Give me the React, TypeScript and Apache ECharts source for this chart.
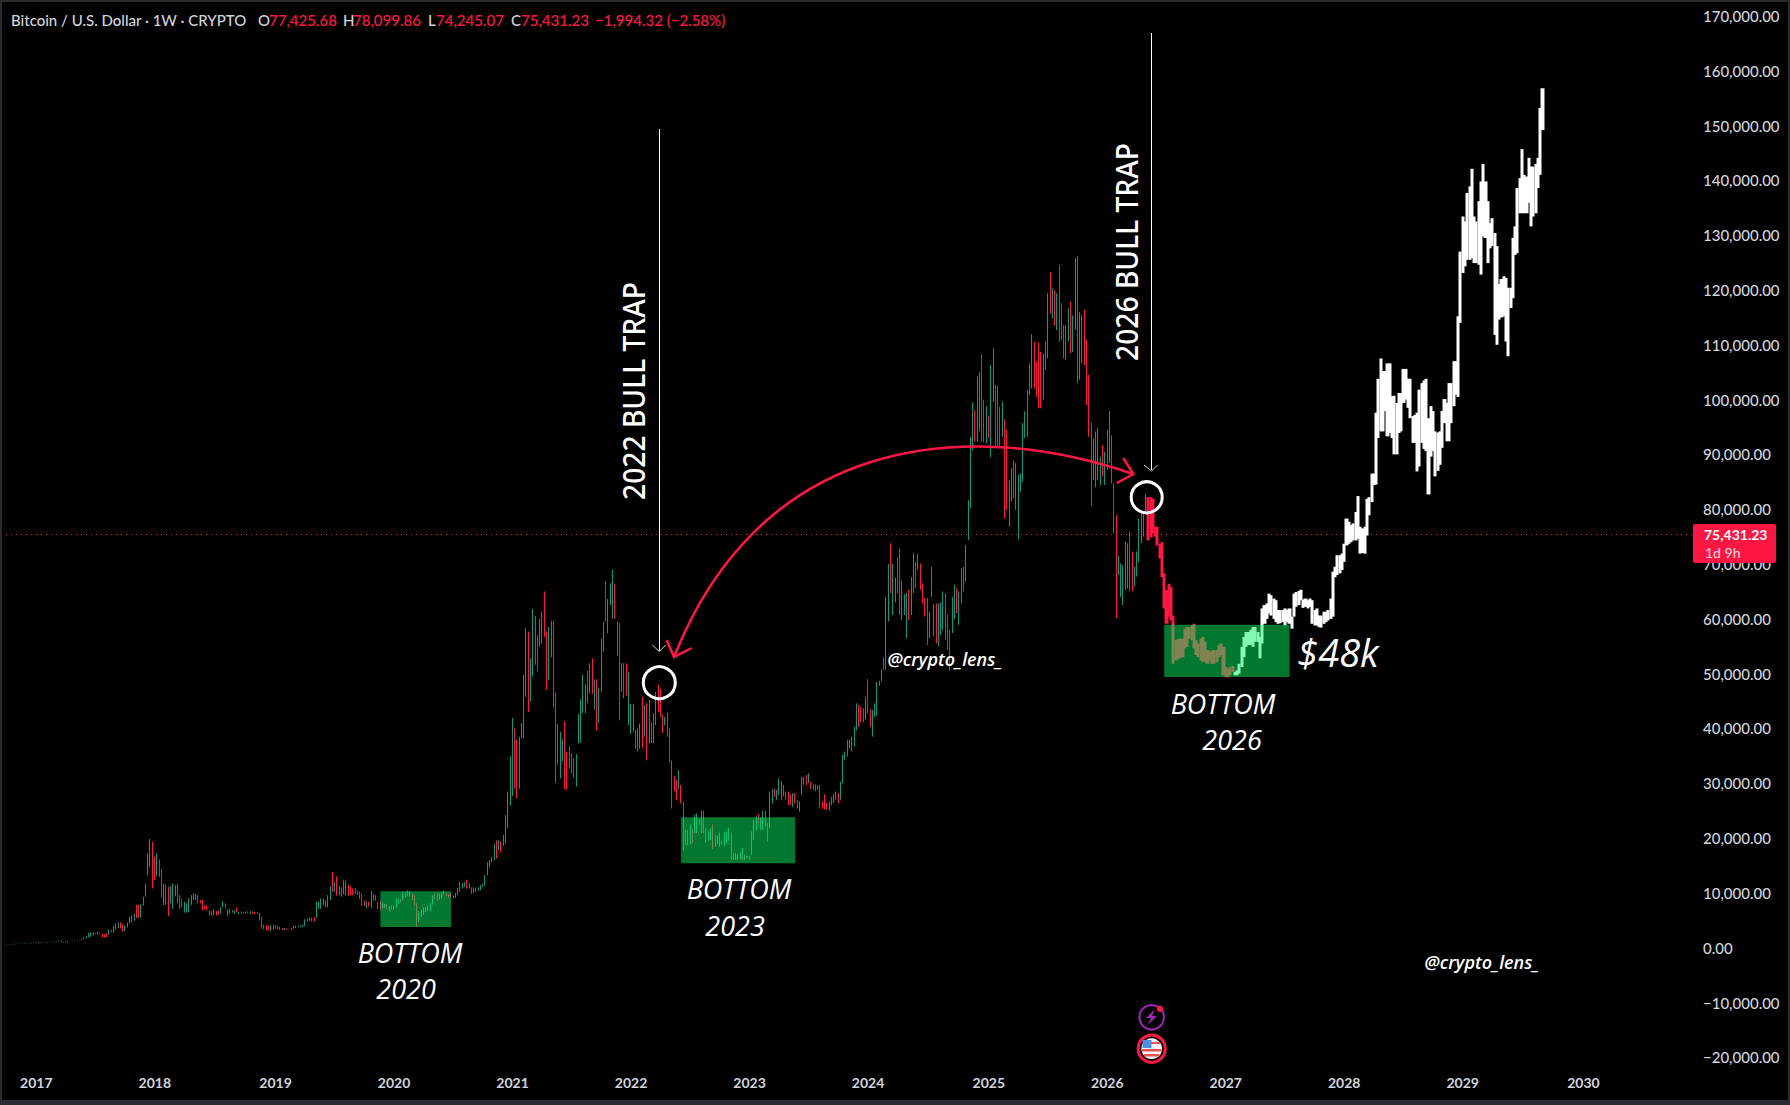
import React, { useEffect, useRef } from "react";
import * as echarts from "echarts";

// Weekly bars in thousands of US dollars, as [open, close] pairs
const bars2016to2017 = [
  [.55,.6],[.56,.61],[.58,.62],[.58,.63],[.6,.65],[.6,.67],[.62,.72],[.65,.74],[.7,.76],[.72,.78],[.72,.79],[.74,.8],[.76,.82],[.78,.9],[.85,.97],
  [.96,1.12],[1.0,.78],[.82,.93],[.88,.95],[.91,.98],[.95,1.05],[.98,1.06],[1.0,1.09],[1.05,1.15],[1.12,1.22],[1.18,1.3],[1.32,1.0],[1.05,.92],[.98,1.14],[1.06,1.22],[1.18,1.25],[1.24,1.15],[1.2,1.3],[1.26,1.36],[1.35,1.45],[1.4,1.6],
  [1.5,1.9],[1.7,2.1],[1.9,2.7],[2.0,2.8],[2.2,2.8],[2.5,2.7],[2.4,2.9],[2.4,2.6],[2.6,1.9],[2.5,1.9],[2.6,1.9],[2.4,3.3],[2.9,3.2],[2.7,4.0],[3.3,4.4],[3.6,4.6],[4.6,3.5],[4.3,2.9],[3.0,4.1],[3.7,4.6],[4.4,5.6],[4.6,5.9],[4.9,6.2],[7.8,5.4],[7.8,5.5],[5.5,7.9],[7.7,9.3],[9.3,11.7],[13.2,17.2],[14.7,19.8],[19.3,10.8],[16.6,12.3],[13,17.2],[16.1,12.9],
];
const bars2018to2019 = [
  [14.3,9.2],[7.8,11.7],[11.6,7.8],[11.1,5.8],[8.1,11.2],[7.1,11.7],[9.4,11.4],[11.6,8.1],[9.6,7.1],[9,7.4],[6.4,8.4],[6.4,8.1],[6.5,9],[7.8,9.6],[8.7,9.9],[8.7,9.9],[9.6,8.1],[8.7,8.1],[8.7,6.8],[7.7,7],[7.7,6.8],[6.8,5.9],[6.7,5.8],[5.9,7],[6.7,5.9],[6.8,6],[6.2,7.4],[7.4,8.5],[8.1,7.1],[7,5.8],[6.2,7.1],[6.4,6.8],[6.2,6.8],[7.3,6.5],[6.1,6.5],[6.2,6.6],[6.5,6.2],[6.2,6.6],[6.6,6.3],[6.1,6.7],[6.6,6.2],[6.5,6.1],[6.5,6.2],[6.4,5.0],[5.6,3.5],[4.2,3.4],[4.1,3.2],[4,3.1],[3.1,4.1],[3.3,4.1],[4.1,3.5],[4,3.4],[3.8,3.3],
  [3.6,3.2],[3.2,3.6],[3.5,3.2],[3.4,3.3],[3.3,3.6],[3.5,4],[3.6,4],[3.7,4.0],[3.7,4.0],[3.8,4.2],[3.9,5.2],[4.8,5.3],[4.9,5.5],[5.5,4.8],[5.6,4.8],[5.4,8.4],[7.1,8.4],[7.1,9],[7.8,9],[8.7,7.4],[7.4,9.6],[8.7,11.2],[13.8,10.2],[10.2,12],[13,9.5],[9.5,11.2],[11,9.3],[9.8,12.3],[9.6,12.3],[11.5,9.5],[11.2,9.6],[10.8,9.6],[10.8,9.8],[10.4,9.6],[10.2,8.9],[9.8,7.6],[8.6,7.6],[7.2,8.4],[8.4,7.5],[7.3,10.4],[9.8,8.6],[9.6,8.6],[8.4,7.0],[8.6,6.8],[7.2,8.2],
];
const bars2020 = [
  [7.3,8.0],[8,7],[6.6,7.6],[7.7,7],[7.7,6.9],[7.3,9],[8.0,8.9],[8.9,8.2],[8.6,10.1],[9.2,10.2],[10.5,9.4],[9.3,10.3],[10,8.7],[9.6,7.7],[8.1,3.8],[4.7,6.7],[5.6,6.9],[6.0,7.4],[6.5,7.4],[6.7,7.8],[6.6,8.2],[7.8,9.6],[10,8.8],[8.5,10],[8.8,9.9],[9.1,10],[9.7,10.4],[10.0,9.4],[9.8,9.1],[10,9.2],[9,9.5],[9.1,10],[9.6,10.9],[10.2,12],[10.8,11.8],[11.1,12],[12.4,10.8],[11.8,10.8],[11,9.8],[10,11],[10.2,11],[10.4,11],[10.5,11.4],[11.1,11.6],[11.3,13.2],[13.2,15.6],[14.7,16],[15.6,16.5],[16,19],[19.6,16.3],[17.8,19.6],[19.4,17.4],[18.6,20.6],[19.0,24.2],[21.8,28.5],[25.9,34.9],
];
const bars2021to2022 = [
  [27.7,41.9],[40,29.1],[37.9,27.3],[29,38.5],[38.2,41],[38.2,49.8],[45.8,58.3],[57.7,43],[44.9,52.8],[49.5,61.8],[60.5,51.6],[57,50.4],[54.9,60],[55.5,61.3],[65,56.7],[57.7,47],[48.8,58.5],[53,59.6],[59.6,43.8],[46.6,30],[33.4,40.8],[30.9,39.4],[34,38],[41.3,28.9],[35.8,28.8],[36.7,32.7],[35.5,31.8],[34.6,31],[29.4,35.3],[37.3,42.6],[37.4,45.3],[42.8,49.8],[42.8,48],[50.5,44.6],[46.4,51.9],[52.8,46.3],[43.4,48.9],[49,39.6],[41,47.5],[46.7,56.4],[54,59.5],[66.9,59.5],[57.4,63.6],[62.5,66.5],[60,69],[66.4,60],[59.5,53.3],[59.2,41.5],[46.7,51.9],[51.9,45.5],[51.9,46],[40.6,50.4],[39,44.5],[39.4,44.5],[39.7,36.3],[35.8,40],[36.3,40.9],[45.8,36.4],[38.5,44.3],[44.6,34.2],[37.3,45.2],[41.2,37.3],[37.3,42.8],[40.6,46.7],[48,43],[47.2,42.2],[42.5,39.2],[40.6,42.1],[42.9,38.5],[40,33.8],[34.2,25.4],[31.3,28.5],[30.6,27],[29,32.4],[29.7,26.3],[26.6,17.7],[21.6,18.6],[21.5,18.7],[18.9,22.4],[21.6,19.1],[20.9,24.2],[20.9,24.5],[23.6,22.4],[20.9,25],[25,20.9],[21.8,19.2],[19.5,21.3],[19.6,21.8],[22.5,18],[20.5,18.4],[18.9,20.5],[18.5,21],[19.5,18.8],[18.5,21],[19,21.3],[19.5,21.9],[21,16.0],[17.2,16],[16,17.3],[17,16],[16.2,17.4],[16,18.2],[17,16],[16.3,16.8],[16.7,16.0],
];
const bars2023 = [
  [16.9,21.2],[19.7,23.3],[21.4,24],[24.4,22.5],[21.5,23.7],[21.5,25],[25,22],[22.7,19.4],[21.8,28.5],[26.3,29],[29,27.5],[27,28.8],[27.9,30.9],[26.9,30.3],[29.7,27.6],[28.5,27],[28.5,26],[27.9,26],[25.7,28.2],[28.2,26.3],[26.9,25.4],[24.8,26.7],[27.9,31.2],[29.7,31.2],[31.5,29.7],[30,31.8],[30.3,29],[29.8,28.8],[29.8,28.5],[28.8,29.6],[29.7,25.4],[26.7,25.4],[28,25.2],[26.4,25.2],[25,26.7],[26,27.5],[26.4,28],[27,28.5],[28.2,26.4],[27,30.3],[30,35.2],[34.3,35.8],[34.9,37.9],[36.4,37.9],[35.8,38.5],[36.7,40.3],[39.7,44.6],[44.3,40.3],[43.9,41.2],[43.7,41.2],[41.6,45.8],[49,42.8],[43.5,40.3],[38.5,43.4],[42.1,44.6],[42.3,48.5],[47.8,48.7],[48.6,50.8],[53,50.7],
];
const bars2024 = [
  [50.7,64],[59.5,70],[73.8,64.7],[60.7,70],[63,67.5],[71.2,64.7],[72.8,60.7],[59.8,67],[60.7,64.5],[56.5,64.7],[65.3,59.8],[60.7,67.6],[64.7,72],[70.4,65.6],[69,71.8],[70.1,65.3],[66.5,62.8],[63.8,60.4],[63.8,55.2],[56.5,61.3],[64,69.5],[56.8,62.7],[62.8,55.5],[55,62.8],[57,63],[58,65],[64.7,56.2],[60.7,54.3],[58,50.5],[57.4,64],[60,66.2],[65.6,61],[58.9,65],[62.8,69.2],[69.5,65],[66.8,73.5],[74.4,81.6],[80.2,93.2],[90.8,99.5],[98,92.3],[92.3,104.2],[94.2,105],[108.3,92.3],[100,92.2],[92,98.8],[97,93],[89.5,106.3],[99.6,109.4],[102.7,91.4],[102.5,91.4],[98.7,91.4],[93.2,99.6],
];
const bars2025to2026 = [
  [96.4,78.3],[94.5,79.9],[76.8,85.3],[81.4,87.5],[88.9,82],[79.9,88.4],[74.5,86.3],[83.2,86.5],[85,95.7],[93,97.9],[93.2,101.8],[100.8,106.6],[102,111.9],[110.6,102],[106.9,100.5],[110.4,98.4],[108.7,98.4],[100,108.4],[105.4,110.6],[107.5,119.4],[123.3,115.7],[114.8,120.3],[119.9,113.5],[112.7,119.4],[124.6,110.6],[117.6,110.9],[113.6,107.5],[107.2,113.6],[110.6,116.7],[117.9,108.5],[108.7,115.4],[112.7,125.8],[126.2,103],[103.6,116],[106.6,115.4],[116.4,106.3],[110.9,99],[104.5,93.2],[95.8,80.6],[85.3,92.9],[84,94.2],[85.3,94.8],[84.4,89.6],[91.7,86],[84.4,90.5],[94.5,87.2],[88.4,97.9],[93.5,84.7],[84.7,75.6],[78.9,60.1],[68,71.5],[64,70.1],[62.5,69.8],[65.3,74.1],[65.5,73.8],[75.9,65],[72.3,65],[65.9,69.5],[67.7,72.3],[70.4,78.3],[73.8,79.5],[75,79.5],[79.3,82.8],
];

// Projected path, [low, high] in thousands
const projectionDown = [
  [74.3,82.2],[74.9,82.2],[75.6,81.9],[75,76.8],[73.4,76.8],[71,73.7],[67.6,74],[61.9,68.3],[59.1,65.2],[60.4,66.4],[59.7,65.8],[51.8,60.6],
  [52.4,56.1],[52.6,56.3],[52.8,56.4],[53,56.4],[54.6,58.2],[54.9,58.5],[56.4,58.5],[56.1,58.8],[54.6,59.1],[53.4,56.1],[53,55.5],[52.4,56.4],[52.1,56.7],[52.2,55.8],[51.8,54.3],[52.4,54],[51.8,54.2],[51.8,54.3],[52.1,54.3],[53,55.2],[53.4,55.5],[49.7,54.9],[49.4,51.2],[49.3,50.9],[49.7,51.2],[50.3,51.4],
];
const projectionUpTo2028 = [
  [49.7,50.3],[49.7,50.6],[50,51.8],[51.2,54.9],[53,56.7],[54.9,57.6],[55.2,57.6],[55.3,58],[54.9,58.5],[55.8,58.5],[55.8,57.6],[52.8,56.7],[55.5,61.9],[59.1,62.5],[60,62.8],[61,64.6],[60.6,64.3],[60,63.7],[59.4,63.4],[59.1,61.6],[59.2,61.6],[59.4,61.6],[58.8,61.9],[59.4,61.6],[59.1,61.9],[58.2,60.4],[60.4,64.6],[62.2,64.9],[62.5,65.1],[63.4,65.3],[62,63.5],[62.2,63.7],[61.9,63.4],[62.2,63.7],[59.1,63.4],[58.8,61.6],[58.8,61.9],[58.5,60.6],[58.4,60.6],[59.1,61.3],[59.4,61.3],[59.7,61.6],[60,63.7],[60.4,68.6],[67.6,69.5],[68,71.6],[68.3,71.6],[68.9,71.9],[70.4,73.7],[73.4,78.3],[73.7,77.7],[74,77.1],[74.3,77.4],[74.3,79.5],[74.6,82.4],[71.9,76.8],[72,76.5],[71.9,76.8],[75.2,81.9],[78.9,82.2],[81.3,86.5],[84.4,86.5],
];
const projectionUpTo2030 = [
  [84.5,97.6],[93,103.8],[94.2,107.5],[94.2,105.2],[97.9,105.2],[93.3,106.6],[93.9,106.6],[93,100.6],[90,100.7],[90,99.4],[93.9,101.2],[94.2,101.2],[99.4,105.6],[100,105.6],[98.5,103.8],[96.6,103.8],[92.1,97],[92.1,97.2],[86.9,97.6],[87.8,101.8],[92.1,103],[91,103.5],[90.6,103.8],[82.7,96.6],[89.6,98.8],[90.6,97.9],[86,94.2],[87,94],[88.1,94.2],[91.2,97.9],[95.7,100.1],[92.4,99.4],[92.4,103],[95.7,103],[98.8,107],[100.9,107],[100.5,115.2],[114,127],[123.1,133.4],[124.3,132.5],[125.5,137.7],[125.5,138.9],[125.8,142.1],[124.9,133.4],[124.9,132.5],[124.6,136.2],[122.8,139.8],[129.8,143],[129.5,139.8],[124.9,136.2],[127.6,132.2],[128,133.1],[111.8,130.4],[110,128],[114.6,121.1],[115,122],[115.2,122.5],[110.6,122.2],[107.9,120.4],[116.7,120.4],[118.5,129.5],[126.4,131.6],[126.7,138.6],[134,140.4],[134,145.7],[134,141],[134,140.7],[135.9,144.1],[131.6,142.5],[133.4,142.5],[134,143],[138.6,144.1],[141,153.2],[149.2,156.8],
];

// [first week, last week, top price, bottom price] of each bottom zone
const bottomZones = [
  [166, 197, 10300, 3800],
  [298, 348, 23800, 15400],
  [510, 565, 58900, 49400],
];

const yearLabels = ["2017","2018","2019","2020","2021","2022","2023","2024","2025","2026","2027","2028","2029","2030"];
const yearStartWeek = [15,67,120,172,224,276,328,380,433,485,537,589,641,694];
const weekCount = 743;
const priceTicks = [-20000,-10000,0,10000,20000,30000,40000,50000,60000,70000,80000,90000,100000,110000,120000,130000,140000,150000,160000,170000];
const lastPrice = 75431.23;

const RED = "#ff1744";
const TEAL = "#089981";
const LABEL = "#d1d4dc";
const FONT = "Lato";

const fmtPrice = (v: number) => {
  const s = Math.abs(v).toLocaleString("en-US", { minimumFractionDigits: 2, maximumFractionDigits: 2 });
  return (v < 0 ? "\u2212" : "") + s;
};

const toCandle = (p: number[], i: number, base: number) => {
  const o = p[0] * 1000, c = p[1] * 1000;
  return [base + i, o, c, Math.min(o, c), Math.max(o, c)];
};

function headerText(x: number, text: string, fill: string) {
  return { type: "text", x, y: 20, z: 20, style: { text, fill, font: `500 15px ${FONT}`, textAlign: "left", textVerticalAlign: "middle" } };
}
function noteText(x: number, y: number, text: string, size: number, weight = 400) {
  return { type: "text", x, y, z: 20, style: { text, fill: "#ffffff", font: `italic ${weight} ${size}px 'Open Sans'`, textAlign: "center", textVerticalAlign: "middle" } };
}
function trapText(x: number, y: number, text: string) {
  return { type: "text", x, y, rotation: Math.PI / 2, scaleX: 0.94, z: 20, style: { text, fill: "#ffffff", font: `500 30px 'Noto Sans'`, textAlign: "center", textVerticalAlign: "middle" } };
}
function seg(x1: number, y1: number, x2: number, y2: number, stroke: string, lineWidth: number) {
  return { type: "line", z: 19, shape: { x1, y1, x2, y2 }, style: { stroke, lineWidth } };
}
function chevron(points: number[][], stroke: string, lineWidth: number) {
  return { type: "polyline", z: 19, shape: { points }, style: { stroke, lineWidth, fill: "none" } };
}
function ringMark(cx: number, cy: number, r: number) {
  return { type: "circle", z: 19, shape: { cx, cy, r }, style: { stroke: "#ffffff", lineWidth: 3, fill: "none" } };
}

export default function App() {
  const ref = useRef<HTMLDivElement>(null);
  useEffect(() => {
    if (!ref.current) return;
    const chart = echarts.init(ref.current, undefined, { renderer: "svg" });
    const actual = [...bars2016to2017, ...bars2018to2019, ...bars2020, ...bars2021to2022, ...bars2023, ...bars2024, ...bars2025to2026];
    const downBase = actual.length;
    const upBase = downBase + projectionDown.length;
    const up = [...projectionUpTo2028, ...projectionUpTo2030];
    const categories = Array.from({ length: weekCount }, () => "");
    yearStartWeek.forEach((w, k) => { categories[w] = yearLabels[k]; });

    chart.setOption({
      animation: false,
      backgroundColor: "#000000",
      grid: { left: 1, top: 0, width: 1693, height: 1099, containLabel: false },
      xAxis: {
        type: "category", data: categories, boundaryGap: true,
        axisLine: { show: false }, axisTick: { show: false }, splitLine: { show: false },
        axisLabel: {
          inside: true, margin: 10, interval: (_: number, v: string) => v !== "",
          color: LABEL, fontFamily: FONT, fontSize: 14, fontWeight: 700,
        },
      },
      yAxis: {
        type: "value", position: "right", min: -27600, max: 172900, scale: true,
        axisLine: { show: false }, axisTick: { show: false }, splitLine: { show: false },
        axisLabel: { customValues: priceTicks, formatter: (v: number) => fmtPrice(v), margin: 9, color: LABEL, fontFamily: FONT, fontSize: 15, fontWeight: 500 },
      },
      series: [
        {
          type: "candlestick", name: "BTCUSD", z: 2, barWidth: 0.1, barMinWidth: 0.1, encode: { x: 0, y: [1, 2, 3, 4] },
          itemStyle: { color: TEAL, color0: RED, borderColor: TEAL, borderColor0: RED, borderWidth: 1 },
          data: actual.map((p, i) => toCandle(p, i, 0)),
          markLine: {
            silent: true, symbol: "none", z: 1, label: { show: false },
            lineStyle: { color: RED, type: [1, 4], width: 1 },
            data: [{ yAxis: lastPrice }],
          },
          markArea: {
            silent: true, z: 10, itemStyle: { color: "rgba(0,245,100,0.49)" },
            data: bottomZones.map((b) => [{ xAxis: b[0], yAxis: b[2] }, { xAxis: b[1], yAxis: b[3] }]),
          },
        },
        {
          type: "candlestick", name: "Projection down", z: 3, barWidth: 3.6, encode: { x: 0, y: [1, 2, 3, 4] },
          itemStyle: { color: RED, color0: RED, borderColor: RED, borderColor0: RED, borderWidth: 0 },
          data: projectionDown.map((p, i) => toCandle(p, i, downBase)),
        },
        {
          type: "candlestick", name: "Projection up", z: 3, barWidth: 3.6, encode: { x: 0, y: [1, 2, 3, 4] },
          itemStyle: { color: "#ffffff", color0: "#ffffff", borderColor: "#ffffff", borderColor0: "#ffffff", borderWidth: 0 },
          data: up.map((p, i) => toCandle(p, i, upBase)),
        },
      ],
      graphic: { elements: [
        { type: "rect", z: 30, shape: { x: 0, y: 0, width: 1790, height: 2 }, style: { fill: "#2a2a2f" } },
        { type: "rect", z: 30, shape: { x: 0, y: 0, width: 2, height: 1105 }, style: { fill: "#2a2a2f" } },
        { type: "rect", z: 30, shape: { x: 1788, y: 0, width: 2, height: 1105 }, style: { fill: "#2a2a2f" } },
        { type: "rect", z: 30, shape: { x: 0, y: 1100, width: 1790, height: 5 }, style: { fill: "#2a2a2f" } },

        headerText(11, "Bitcoin / U.S. Dollar \u00b7 1W \u00b7 CRYPTO", LABEL),
        headerText(258, "O", LABEL), headerText(269, "77,425.68", RED),
        headerText(343, "H", LABEL), headerText(353, "78,099.86", RED),
        headerText(428, "L", LABEL), headerText(436, "74,245.07", RED),
        headerText(511, "C", LABEL), headerText(521, "75,431.23", RED),
        headerText(595, "\u22121,994.32 (\u22122.58%)", RED),

        { type: "rect", z: 25, shape: { x: 1693, y: 524, width: 83, height: 39, r: 2 }, style: { fill: RED } },
        { type: "text", z: 26, x: 1704, y: 534, style: { text: "75,431.23", fill: "#ffffff", font: `700 14px ${FONT}`, textAlign: "left", textVerticalAlign: "middle" } },
        { type: "text", z: 26, x: 1705, y: 552, style: { text: "1d 9h", fill: "#ffd0d8", font: `500 14px ${FONT}`, textAlign: "left", textVerticalAlign: "middle" } },

        noteText(410, 952, "BOTTOM", 27), noteText(406, 988, "2020", 27),
        noteText(739, 888, "BOTTOM", 27), noteText(735, 925, "2023", 27),
        noteText(1223, 703, "BOTTOM", 27), noteText(1232, 739, "2026", 27),
        noteText(1338, 652, "$48k", 38),
        noteText(945, 659, "@crypto_lens_", 18, 600),
        noteText(1482, 962, "@crypto_lens_", 18, 600),

        trapText(634, 391, "2022 BULL TRAP"),
        trapText(1127, 252, "2026 BULL TRAP"),

        seg(659.5, 129, 659.5, 651, "#ffffff", 1),
        chevron([[652.3, 645], [659.3, 651.5], [665.7, 645]], "#c8ccd6", 1),
        seg(1151.5, 33, 1151.5, 470, "#ffffff", 1),
        chevron([[1144, 465], [1151.5, 471], [1157.7, 465]], "#c8ccd6", 1),

        ringMark(659.3, 682.7, 16),
        ringMark(1146.7, 497.3, 15.5),

        { type: "bezierCurve", z: 19, shape: { x1: 674, y1: 657, cpx1: 760, cpy1: 440, cpx2: 960, cpy2: 415, x2: 1133, y2: 474 }, style: { stroke: RED, lineWidth: 2.5, fill: "none" } },
        chevron([[666.7, 640], [674, 657], [691.7, 648]], RED, 2.5),
        chevron([[1123.3, 458], [1133.3, 474], [1116.7, 483]], RED, 2.5),

        { type: "circle", z: 21, shape: { cx: 1151.7, cy: 1017.3, r: 12.2 }, style: { stroke: "#9c27b0", lineWidth: 2, fill: "#000000" } },
        { type: "polygon", z: 22, shape: { points: [[1155, 1009], [1146, 1018], [1151, 1018], [1148, 1025], [1157, 1016], [1152, 1016]] }, style: { fill: "#9c27b0" } },
        { type: "circle", z: 22, shape: { cx: 1160, cy: 1008.7, r: 3.2 }, style: { fill: RED } },
        { type: "circle", z: 21, shape: { cx: 1151.7, cy: 1048.7, r: 13.6 }, style: { stroke: RED, lineWidth: 3, fill: "#000000" } },
        { type: "circle", z: 22, shape: { cx: 1151.7, cy: 1048.7, r: 10.4 }, style: { fill: "#f4f4f6" } },
        { type: "rect", z: 23, shape: { x: 1143, y: 1042, width: 17, height: 2 }, style: { fill: "#ef5350" } },
        { type: "rect", z: 23, shape: { x: 1142, y: 1049, width: 19.5, height: 2.5 }, style: { fill: "#ef5350" } },
        { type: "rect", z: 23, shape: { x: 1144, y: 1054, width: 15.5, height: 2.5 }, style: { fill: "#ef5350" } },
        { type: "rect", z: 24, shape: { x: 1142.5, y: 1040, width: 9, height: 8 }, style: { fill: "#4f8fe0" } },
      ] },
    });
    return () => chart.dispose();
  }, []);
  return <div ref={ref} style={{ position: "fixed", left: 0, top: 0, width: 1790, height: 1105 }} />;
}
